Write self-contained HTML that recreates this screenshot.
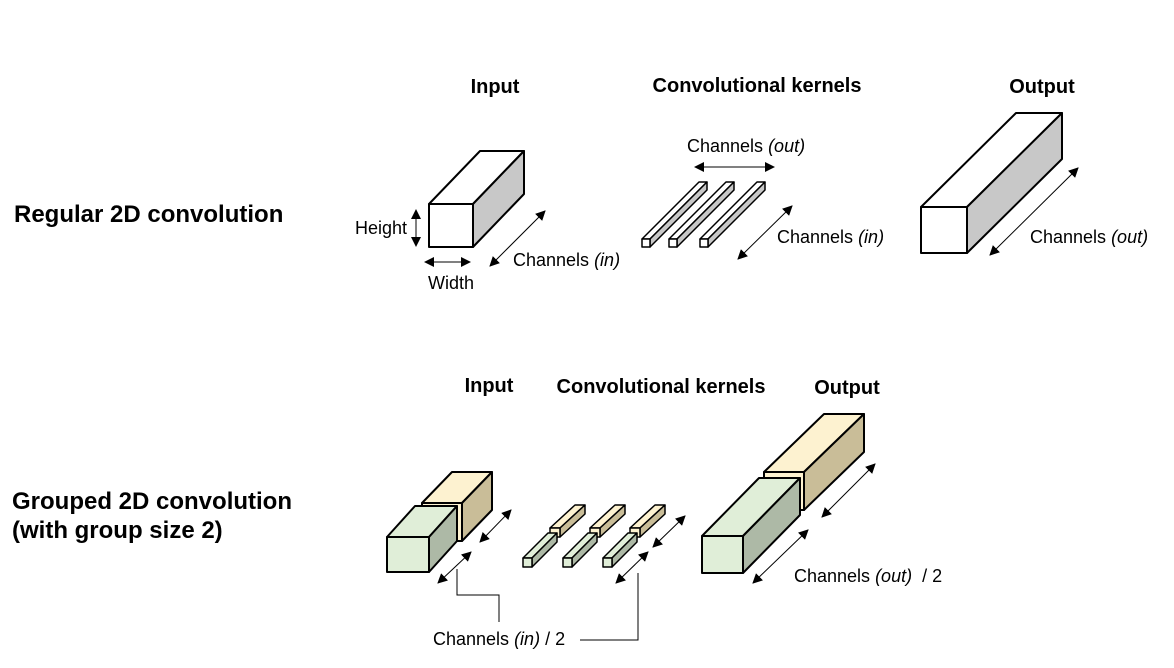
<!DOCTYPE html>
<html><head><meta charset="utf-8"><style>
html,body{margin:0;padding:0;background:#fff;}
svg{display:block;font-family:"Liberation Sans",Arial,sans-serif;}
</style></head><body>
<svg id="s" width="1174" height="668" viewBox="0 0 1174 668" xmlns="http://www.w3.org/2000/svg">
<defs>
<marker id="a" viewBox="0 0 10 10" refX="9" refY="5" markerWidth="10" markerHeight="10" markerUnits="userSpaceOnUse" orient="auto-start-reverse">
<path d="M0,0 L10,5 L0,10 z" fill="#000"/></marker>
</defs>
<g id="boxes"></g>
<g stroke="#000" stroke-width="1" fill="none" marker-start="url(#a)" marker-end="url(#a)">
<line x1="416" y1="210" x2="416" y2="246"/>
<line x1="425" y1="262" x2="470" y2="262"/>
<line x1="490" y1="266" x2="545" y2="211"/>
<line x1="695" y1="167" x2="774" y2="167"/>
<line x1="738" y1="259" x2="792" y2="206"/>
<line x1="990" y1="255" x2="1078" y2="168"/>
<line x1="438" y1="583" x2="471" y2="552"/>
<line x1="480" y1="542" x2="511" y2="510"/>
<line x1="616" y1="583" x2="648" y2="552"/>
<line x1="653" y1="547" x2="685" y2="516"/>
<line x1="753" y1="583" x2="808" y2="530"/>
<line x1="822" y1="517" x2="875" y2="464"/>
</g>
<g stroke="#000" stroke-width="1" fill="none">
<polyline points="457,569 457,595 499,595 499,622"/>
<polyline points="638,573 638,640 580,640"/>
</g>
<g font-size="20" font-weight="bold" text-anchor="middle">
<text x="495" y="93">Input</text>
<text x="757" y="92">Convolutional kernels</text>
<text x="1042" y="93">Output</text>
<text x="489" y="392">Input</text>
<text x="661" y="393">Convolutional kernels</text>
<text x="847" y="394">Output</text>
</g>
<g font-size="24" font-weight="bold">
<text x="14" y="222">Regular 2D convolution</text>
<text x="12" y="509">Grouped 2D convolution</text>
<text x="12" y="538">(with group size 2)</text>
</g>
<g font-size="18">
<text x="407" y="234" text-anchor="end">Height</text>
<text x="451" y="289" text-anchor="middle">Width</text>
<text x="513" y="266">Channels <tspan font-style="italic">(in)</tspan></text>
<text x="687" y="152">Channels <tspan font-style="italic">(out)</tspan></text>
<text x="777" y="243">Channels <tspan font-style="italic">(in)</tspan></text>
<text x="1030" y="243">Channels <tspan font-style="italic">(out)</tspan></text>
<text x="794" y="582" xml:space="preserve">Channels <tspan font-style="italic">(out)</tspan>  / 2</text>
<text x="433" y="645">Channels <tspan font-style="italic">(in)</tspan> / 2</text>
</g>
</svg>
<script>
var g=document.getElementById('boxes');
function box(x,y,w,h,d,e,front,side,top,sw){
  var ns='http://www.w3.org/2000/svg';
  function p(pts,fill){var el=document.createElementNS(ns,'polygon');el.setAttribute('points',pts);el.setAttribute('fill',fill);el.setAttribute('stroke','#000');el.setAttribute('stroke-width',sw||2);el.setAttribute('stroke-linejoin','round');g.appendChild(el);}
  p([x,y, x+d,y-e, x+w+d,y-e, x+w,y].join(' '),top);
  p([x+w,y, x+w+d,y-e, x+w+d,y+h-e, x+w,y+h].join(' '),side);
  p([x,y, x+w,y, x+w,y+h, x,y+h].join(' '),front);
}
var GF='#e0eed8',GS='#adb9a6',YF='#fdf2d0',YS='#c9bd98';
box(429,204,44,43,51,53,'#fff','#c8c8c8','#fff');
[642,669,700].forEach(function(x){box(x,239,8,8,57,57,'#fff','#c8c8c8','#fff',1.5);});
box(921,207,46,46,95,94,'#fff','#c8c8c8','#fff');
box(422,503,40,38,30,31,YF,YS,YF);
box(387,537,42,35,28,31,GF,GS,GF);
[0,40,80].forEach(function(o){
  box(550+o,528,10,9,25,23,YF,YS,YF,1.5);
  box(523+o,558,9,9,25,25,GF,GS,GF,1.5);
});
box(764,472,40,38,60,58,YF,YS,YF);
box(702,536,41,37,57,58,GF,GS,GF);
</script>
</body></html>
